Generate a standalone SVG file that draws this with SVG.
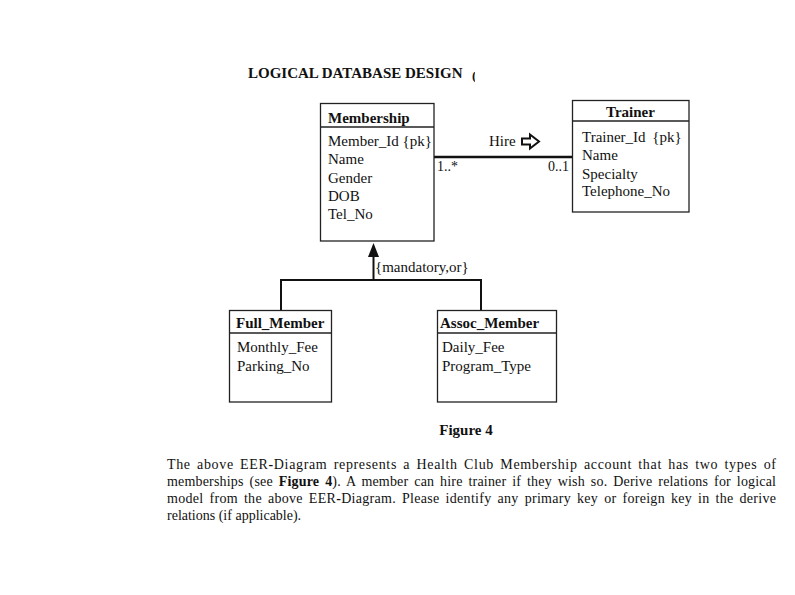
<svg xmlns="http://www.w3.org/2000/svg" width="795" height="595" viewBox="0 0 795 595">
<style>
text{font-family:"Liberation Serif","Times New Roman",serif;fill:#111}
.t{font-size:15px}
.b{font-weight:bold}
.box{fill:#fff;stroke:#222;stroke-width:1.3}
.sep{stroke:#222;stroke-width:1.3}
.p{font-size:14px;word-spacing:2.2px}
</style>
<defs>
<clipPath id="cut"><rect x="440" y="60" width="35" height="30"/></clipPath>
</defs>
<rect width="795" height="595" fill="#fff"/>
<text class="t b" x="248" y="78">LOGICAL DATABASE DESIGN</text>
<text class="t b" x="472" y="80" clip-path="url(#cut)" style="font-size:13px">(</text>

<g id="connectors" fill="none" stroke="#111">
  <line x1="434" y1="157" x2="572" y2="157" stroke-width="2.5"/>
  <polygon points="522,138.5 530,138.5 530,134.5 539,141.5 530,148.5 530,144.5 522,144.5" fill="#fff" stroke-width="2"/>
  <polyline points="281,310 281,280 481,280 481,310" stroke-width="2"/>
  <line x1="373.5" y1="280" x2="373.5" y2="256" stroke-width="2"/>
  <polygon points="373.5,243 379,257 368,257" fill="#111" stroke="none"/>
</g>
<g id="connector-labels">
  <text class="t" x="489" y="146">Hire</text>
  <text x="437" y="171" style="font-size:14px">1..*</text>
  <text x="569" y="171" text-anchor="end" style="font-size:14px">0..1</text>
  <text class="t" x="375" y="272">{mandatory,or}</text>
</g>

<g id="membership">
  <rect class="box" x="320.5" y="103.5" width="113.5" height="137.5"/>
  <line class="sep" x1="320.5" y1="127" x2="434" y2="127"/>
  <text class="t b" x="328" y="123">Membership</text>
  <text class="t" x="328" y="146">Member_Id {pk}</text>
  <text class="t" x="328" y="164">Name</text>
  <text class="t" x="328" y="183">Gender</text>
  <text class="t" x="328" y="201">DOB</text>
  <text class="t" x="328" y="219">Tel_No</text>
</g>

<g id="trainer">
  <rect class="box" x="572.5" y="100.5" width="116.5" height="111.5"/>
  <line class="sep" x1="572.5" y1="121" x2="689" y2="121"/>
  <text class="t b" x="630.5" y="117" text-anchor="middle">Trainer</text>
  <text class="t" x="582" y="142" style="word-spacing:3px">Trainer_Id {pk}</text>
  <text class="t" x="582" y="160">Name</text>
  <text class="t" x="582" y="179">Specialty</text>
  <text class="t" x="582" y="196">Telephone_No</text>
</g>

<g id="full_member">
  <rect class="box" x="229.5" y="310.5" width="102" height="91.5"/>
  <line class="sep" x1="229.5" y1="333" x2="331.5" y2="333"/>
  <text class="t b" x="236" y="328">Full_Member</text>
  <text class="t" x="237" y="352">Monthly_Fee</text>
  <text class="t" x="237" y="371">Parking_No</text>
</g>

<g id="assoc_member">
  <rect class="box" x="437.5" y="310.5" width="119" height="91.5"/>
  <line class="sep" x1="437.5" y1="333" x2="556.5" y2="333"/>
  <text class="t b" x="440" y="328">Assoc_Member</text>
  <text class="t" x="442" y="352">Daily_Fee</text>
  <text class="t" x="442" y="371">Program_Type</text>
</g>

<text x="466" y="435" text-anchor="middle" class="b" style="font-size:15px">Figure 4</text>
<text class="p" x="167" y="469" textLength="609" lengthAdjust="spacing">The above EER<tspan class="b">-</tspan>Diagram represents a Health Club Membership account that has two types of</text>
<text class="p" x="167" y="486" textLength="609" lengthAdjust="spacing">memberships (see <tspan class="b">Figure 4</tspan>). A member can hire trainer if they wish so. Derive relations for logical</text>
<text class="p" x="167" y="503" textLength="609" lengthAdjust="spacing">model from the above EER<tspan class="b">-</tspan>Diagram. Please identify any primary key or foreign key in the derive</text>
<text x="167" y="520" style="font-size:14px">relations (if applicable).</text>
</svg>
